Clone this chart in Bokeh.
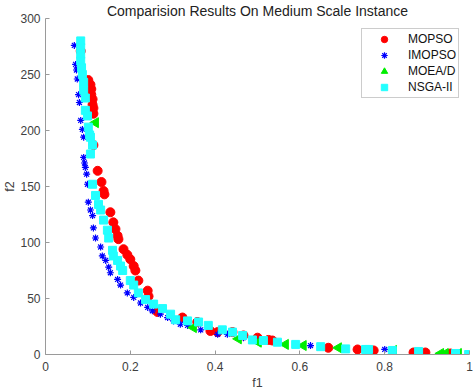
from bokeh.plotting import figure
from bokeh.models import Range1d, FixedTicker, Legend, LegendItem
from bokeh.embed import file_html
from bokeh.resources import INLINE

title_text = "Comparision Results On Medium Scale Instance"
x_ticks = [0, 0.2, 0.4, 0.6, 0.8, 1]
x_tick_labels = ["0", "0.2", "0.4", "0.6", "0.8", "1"]
y_ticks = [0, 50, 100, 150, 200, 250, 300]

mopso_f1 = [0.083, 0.101, 0.106, 0.108, 0.108, 0.111, 0.111, 0.113, 0.113, 0.113, 0.123, 0.132,
            0.137, 0.139, 0.153, 0.160, 0.165, 0.170, 0.172, 0.184, 0.193, 0.200, 0.208, 0.212,
            0.219, 0.241, 0.243, 0.264, 0.323, 0.358, 0.389, 0.406, 0.441, 0.467, 0.500, 0.526,
            0.535, 0.667, 0.736, 0.774, 0.868, 0.896, 0.955]
mopso_f2 = [271, 245, 241, 237, 232, 228, 223, 220, 215, 187, 164, 154,
            146, 143, 127, 118, 112, 106, 103, 94, 89, 85, 79, 75,
            66, 57, 52, 38, 33, 29, 21, 20, 20, 17, 15, 13,
            12.5, 6, 4.5, 3.6, 1.8, 1.8, 0.9]

imopso_f1 = [0.068, 0.071, 0.073, 0.075, 0.078, 0.080, 0.083, 0.087, 0.090, 0.090, 0.092, 0.094,
             0.097, 0.099, 0.101, 0.106, 0.111, 0.113, 0.118, 0.130, 0.134, 0.142, 0.149, 0.153,
             0.170, 0.177, 0.193, 0.208, 0.224, 0.241, 0.252, 0.271, 0.288, 0.302, 0.318, 0.335,
             0.366, 0.406, 0.429, 0.467, 0.507, 0.625, 0.800]
imopso_f2 = [276, 259, 254, 246, 232, 225, 209, 201, 194, 176, 171, 167,
             161, 152, 136, 129, 124, 113, 104, 96, 88, 84, 78, 73,
             67, 62, 55, 51, 46, 42, 39, 36, 33, 30, 27, 26,
             22, 18, 18, 15, 12.5, 8, 4.5]

moead_f1 = [0.118, 0.349, 0.455, 0.502, 0.566, 0.608, 0.691, 0.821, 0.932, 0.943, 0.974]
moead_f2 = [207, 24, 14, 11, 9, 8, 6, 3.6, 0.9, 0.9, 0.9]

nsga_f1 = [0.083, 0.083, 0.083, 0.083, 0.085, 0.087, 0.090, 0.090, 0.094, 0.094, 0.099, 0.101,
           0.104, 0.106, 0.111, 0.106, 0.111, 0.118, 0.125, 0.130, 0.137, 0.146, 0.149, 0.158,
           0.160, 0.170, 0.177, 0.182, 0.200, 0.208, 0.219, 0.236, 0.255, 0.276, 0.295, 0.307,
           0.335, 0.361, 0.384, 0.417, 0.441, 0.465, 0.488, 0.514, 0.547, 0.590, 0.649, 0.708,
           0.755, 0.762, 0.818, 0.880, 0.967, 0.998]
nsga_f2 = [280, 274, 268, 262, 256, 250, 243, 236, 229, 218, 213, 203,
           196, 194, 187, 179, 152, 142, 134, 129, 120, 111, 104, 93,
           88, 84, 79, 75, 66, 62, 55, 49, 45, 41, 36, 31,
           30, 29, 26, 22, 20, 17, 13, 12.5, 11, 9, 7, 5,
           4.5, 4.5, 3.6, 2.7, 0.9, 0]

FONT = "Liberation Sans"

p = figure(frame_width=424, frame_height=336,
           min_border_left=45, min_border_right=5, min_border_top=16, min_border_bottom=38,
           x_range=Range1d(0, 1), y_range=Range1d(0, 300),
           output_backend="svg", toolbar_location=None, tools="")
p.outline_line_color = None
p.xgrid.grid_line_color = None
p.ygrid.grid_line_color = None
p.background_fill_color = "white"
p.border_fill_color = "white"

p.title.text = title_text
p.title.align = "center"
p.title.text_font = FONT
p.title.text_font_size = "14px"
p.title.text_font_style = "normal"
p.title.text_color = "#222222"
p.title.standoff = 0
p.title.offset = 0

for ax in (p.xaxis[0], p.yaxis[0]):
    ax.axis_line_color = "#9a9a9a"
    ax.major_tick_line_color = "#9a9a9a"
    ax.major_tick_in = 4
    ax.major_tick_out = 0
    ax.minor_tick_line_color = None
    ax.major_label_text_font = FONT
    ax.major_label_text_font_size = "12px"
    ax.major_label_text_color = "#404040"
    ax.axis_label_text_font = FONT
    ax.axis_label_text_font_size = "12.5px"
    ax.axis_label_text_font_style = "normal"
    ax.axis_label_text_color = "#404040"

p.xaxis.ticker = FixedTicker(ticks=x_ticks)
p.xaxis.major_label_overrides = {t: l for t, l in zip(x_ticks, x_tick_labels)}
p.xaxis.major_label_standoff = 7
p.xaxis.axis_label = "f1"
p.xaxis.axis_label_standoff = 2
p.yaxis.ticker = FixedTicker(ticks=y_ticks)
p.yaxis.major_label_standoff = 5
p.yaxis.axis_label = "f2"
p.yaxis.axis_label_standoff = 0

r1 = p.scatter(mopso_f1, mopso_f2, marker="circle", size=9, fill_color="#ff0000", line_color="#ff0000")
r2 = p.scatter(imopso_f1, imopso_f2, marker="asterisk", size=7, line_color="#0000ff", line_width=1.2)
r3 = p.scatter(moead_f1, moead_f2, marker="triangle", size=10, angle=90, angle_units="deg",
               fill_color="#00ee00", line_color="#00ee00")
r4 = p.scatter(nsga_f1, nsga_f2, marker="square", size=8, fill_color="#22ffff", line_color="#22ffff")

legend = Legend(items=[LegendItem(label="MOPSO", renderers=[r1]),
                       LegendItem(label="IMOPSO", renderers=[r2]),
                       LegendItem(label="MOEA/D", renderers=[r3]),
                       LegendItem(label="NSGA-II", renderers=[r4])],
                location=(316, 256), padding=2, spacing=0, margin=0,
                glyph_width=40, glyph_height=16, label_height=16, label_standoff=4,
                label_text_font=FONT, label_text_font_size="12px", label_text_color="#111111",
                border_line_color="#9a9a9a", border_line_width=1,
                background_fill_color="white", background_fill_alpha=1)
p.add_layout(legend, "center")

open("out.html", "w").write(file_html(p, INLINE))
